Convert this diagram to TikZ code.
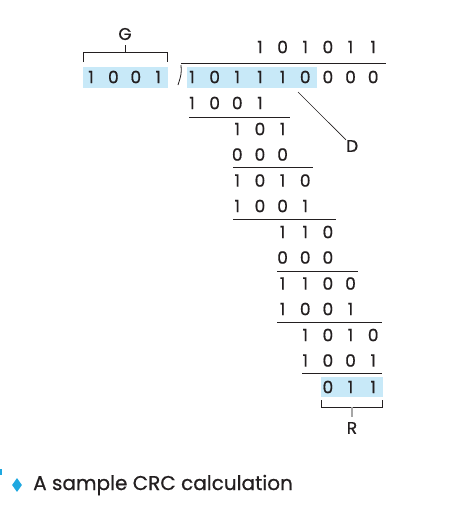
\documentclass[tikz,border=0pt]{standalone}
\usepackage{fontspec}
\setmainfont{Poppins}[FakeBold=0.6]
\usetikzlibrary{shapes.geometric}
\definecolor{hl}{HTML}{C8E9F8}
\definecolor{ink}{HTML}{231F20}
\definecolor{cyanmark}{HTML}{1FA8E0}
\newcommand{\digitrow}[4]{%
  \foreach \d [count=\j from 0] in {#4} {%
    \node[dig] (#1-\j) at ({192+22.65*(#3+\j)},#2) {\d};}}
\tikzset{
  dig/.style={inner sep=0pt, text=ink, font=\fontsize{17}{17}\selectfont},
  lbl/.style={inner sep=0pt, text=ink, font=\fontsize{17}{17}\selectfont},
  rule/.style={draw=ink, line width=0.8pt},
  brk/.style={draw=ink, line width=0.9pt},
  hlbox/.style={fill=hl, draw=none}
}
\begin{document}
\begin{tikzpicture}[x=1pt,y=-1pt]
\useasboundingbox (0,0) rectangle (468,515);
% highlights
\fill[hlbox] (83,67) rectangle (168,88);
\fill[hlbox] (187,67) rectangle (317,88);
\fill[hlbox] (321,377) rectangle (383,397);
% divisor
\foreach \d [count=\j from 0] in {1,0,0,1} {
  \node[dig] (g-\j) at ({91+22.4*\j},77) {\d};}
% quotient
\digitrow{q}{47}{3}{1,0,1,0,1,1}
% dividend
\digitrow{m}{77}{0}{1,0,1,1,1,0,0,0,0}
% steps
\digitrow{s2}{103}{0}{1,0,0,1}
\digitrow{s3}{129}{2}{1,0,1}
\digitrow{s4}{154.5}{2}{0,0,0}
\digitrow{s5}{180.5}{2}{1,0,1,0}
\digitrow{s6}{206}{2}{1,0,0,1}
\digitrow{s7}{232}{4}{1,1,0}
\digitrow{s8}{257.5}{4}{0,0,0}
\digitrow{s9}{283.5}{4}{1,1,0,0}
\digitrow{s10}{309}{4}{1,0,0,1}
\digitrow{s11}{335}{5}{1,0,1,0}
\digitrow{s12}{360.5}{5}{1,0,0,1}
\digitrow{s13}{387}{6}{0,1,1}
% division bar
\draw[rule] (181,63) -- (386,63);
\draw[rule] (181,65) .. controls (181.5,74) .. (178,85);
% subtraction rules
\draw[rule] (189,117) -- (290,117);
\draw[rule] (233,167) -- (313,167);
\draw[rule] (233,219) -- (336,219);
\draw[rule] (277,271) -- (358,271);
\draw[rule] (277,322) -- (382,322);
\draw[rule] (302,373) -- (382,373);
% G bracket
\draw[brk] (83,62) -- (83,52) -- (167,52) -- (167,62);
\coordinate (gt) at (125,52);
\node[lbl] (G) at (125,34) {G};
\draw[brk, shorten >=4.5pt] (gt) -- (G.south);
% D
\coordinate (dt) at (298,92);
\node[lbl, anchor=west] (D) at (346,146) {D};
\draw[draw=ink, line width=0.6pt] (dt) -- (D.north west);
% R bracket
\draw[brk] (321,400) -- (321,407) -- (382,407) -- (382,400);
\coordinate (rt) at (352,407);
\node[lbl] (R) at (352,428) {R};
\draw[draw=gray!70, line width=1.2pt, shorten >=5pt] (rt) -- (R.north);
% caption
\fill[cyanmark] (0,469) rectangle (1.8,475);
\node[diamond, fill=cyanmark, minimum width=10pt, minimum height=14pt, inner sep=0pt] (dm) at (17,485) {};
\node[anchor=west, inner sep=0pt, text=ink, font=\fontsize{20}{20}\selectfont] (cap) at (33,485) {A sample CRC calculation};
\end{tikzpicture}
\end{document}
